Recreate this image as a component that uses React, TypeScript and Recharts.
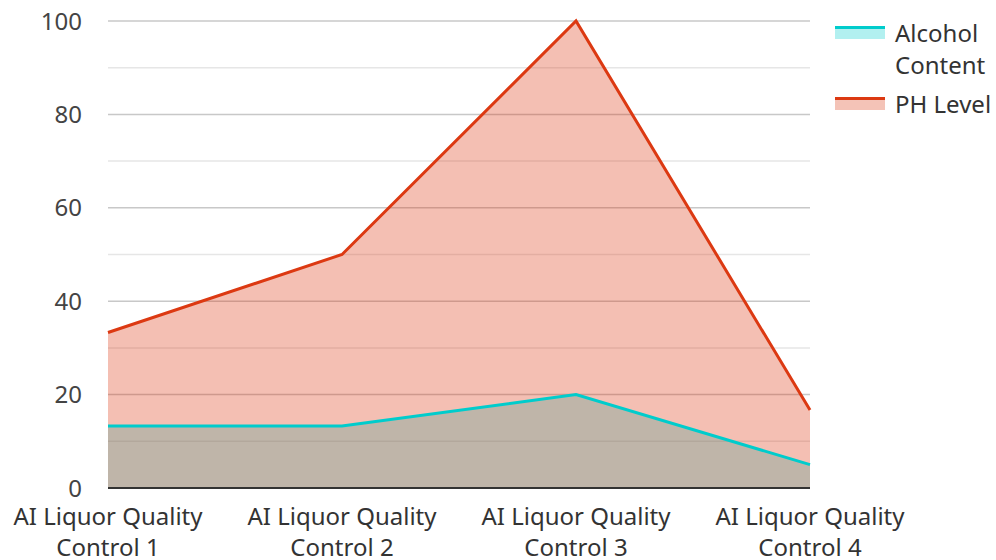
import React from "react"
import { Area, CartesianGrid, ComposedChart, Line, XAxis, YAxis } from "recharts"

const categories = [
    "AI Liquor Quality Control 1",
    "AI Liquor Quality Control 2",
    "AI Liquor Quality Control 3",
    "AI Liquor Quality Control 4",
]
const alcoholContent = [13.3, 13.3, 20, 5]
const phLevel = [33.3, 50, 100, 16.7]
const yTicks = [0, 20, 40, 60, 80, 100]
const minorTicks = [10, 30, 50, 70, 90]

const CYAN = "#00cccc"
const RED = "#dc3912"
const FONT = "'Noto Sans', sans-serif"

const data = categories.map((name, i) => ({
    name,
    alcohol: alcoholContent[i],
    ph: phLevel[i],
}))

function XTick({ x, y, payload }: any) {
    const label: string = payload.value
    const cut = label.lastIndexOf(" Control")
    const lines = cut > 0 ? [label.slice(0, cut), label.slice(cut + 1)] : [label]
    return (
        <text x={x} y={y} textAnchor="middle" fill="#333" fontSize={24} fontFamily={FONT}>
            {lines.map((l, i) => (
                <tspan key={i} x={x} dy={i === 0 ? 29 : 31}>
                    {l}
                </tspan>
            ))}
        </text>
    )
}

function LegendItem({ color, lines, top }: { color: string; lines: string[]; top: number }) {
    return (
        <div style={{ position: "absolute", left: 835, top, display: "flex" }}>
            <div style={{ width: 50, marginTop: 9 }}>
                <div style={{ height: 3, background: color }} />
                <div style={{ height: 10, background: color, opacity: 0.3 }} />
            </div>
            <div style={{ marginLeft: 10, fontSize: 24, lineHeight: "32px", color: "#333", fontFamily: FONT }}>
                {lines.map((l) => (
                    <div key={l}>{l}</div>
                ))}
            </div>
        </div>
    )
}

export default function App() {
    return (
        <div style={{ position: "absolute", left: 0, top: 0, width: 996, height: 560, background: "#fff" }}>
            <ComposedChart width={996} height={560} data={data} margin={{ top: 21, right: 186, bottom: 0, left: 0 }}>
                <CartesianGrid vertical={false} horizontalValues={minorTicks} stroke="#e6e6e6" strokeWidth={1.5} />
                <CartesianGrid vertical={false} horizontalValues={yTicks} stroke="#c8c8c8" strokeWidth={1.5} />
                <XAxis
                    dataKey="name"
                    height={72}
                    tick={<XTick />}
                    tickLine={false}
                    axisLine={{ stroke: "#333", strokeWidth: 2 }}
                    interval={0}
                />
                <YAxis
                    width={108}
                    domain={[0, 100]}
                    ticks={yTicks}
                    axisLine={false}
                    tickLine={false}
                    tickMargin={20}
                    tick={{ fill: "#444", fontSize: 24, fontFamily: FONT }}
                />
                <Area
                    type="linear"
                    dataKey="alcohol"
                    stroke="none"
                    fill={CYAN}
                    fillOpacity={0.3}
                    isAnimationActive={false}
                    activeDot={false}
                />
                <Area
                    type="linear"
                    dataKey="ph"
                    stroke="none"
                    fill={RED}
                    fillOpacity={0.32}
                    isAnimationActive={false}
                    activeDot={false}
                />
                <Line
                    type="linear"
                    dataKey="alcohol"
                    stroke={CYAN}
                    strokeWidth={3}
                    dot={false}
                    activeDot={false}
                    isAnimationActive={false}
                />
                <Line
                    type="linear"
                    dataKey="ph"
                    stroke={RED}
                    strokeWidth={3}
                    dot={false}
                    activeDot={false}
                    isAnimationActive={false}
                />
            </ComposedChart>
            <LegendItem color={CYAN} lines={["Alcohol", "Content"]} top={17} />
            <LegendItem color={RED} lines={["PH Level"]} top={88} />
        </div>
    )
}
